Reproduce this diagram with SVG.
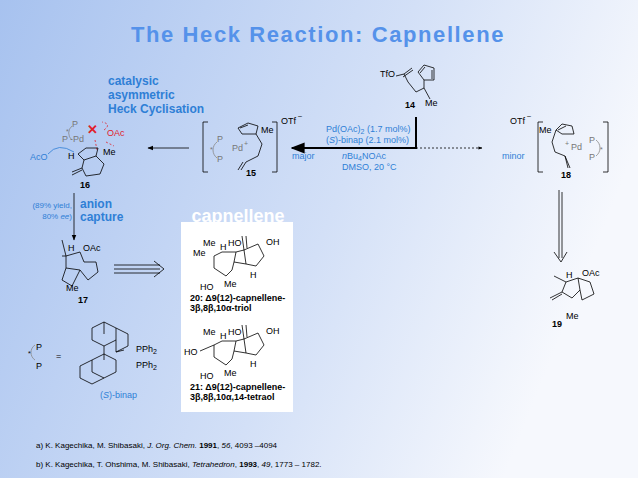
<svg xmlns="http://www.w3.org/2000/svg" width="638" height="478" viewBox="0 0 638 478">
<defs>
<linearGradient id="bg" x1="0" y1="0" x2="1" y2="0.3"><stop offset="0" stop-color="#a7c2ef"/><stop offset="0.6" stop-color="#d3e0f7"/><stop offset="1" stop-color="#f6f8fd"/></linearGradient>
<marker id="ah" viewBox="0 0 10 10" refX="9" refY="5" markerWidth="7" markerHeight="7" orient="auto"><path d="M0,1 L10,5 L0,9 z" fill="#000"/></marker>
<marker id="ahs" viewBox="0 0 10 10" refX="9" refY="5" markerWidth="5" markerHeight="5" orient="auto"><path d="M0,1 L10,5 L0,9 z" fill="#000"/></marker>
</defs>
<style>
text{font-family:"Liberation Sans",Arial,sans-serif}
.b{fill:#2f7fd6}.t{font-size:9px}.s{font-size:7px}.g{fill:#777}.bl{fill:#000}
.ln{stroke:#000;stroke-width:0.8;fill:none}.gl{stroke:#888;stroke-width:0.8;fill:none}
.lab{font-size:12px;font-weight:bold;fill:#2f7fd6}
</style>
<rect width="638" height="478" fill="url(#bg)"/>
<text x="318" y="42" text-anchor="middle" font-size="22" font-weight="bold" fill="#5592ea" letter-spacing="1.6">The Heck Reaction: Capnellene</text>

<g id="labels">
<text class="lab" x="108" y="85">catalysic</text>
<text class="lab" x="108" y="99">asymmetric</text>
<text class="lab" x="108" y="113">Heck Cyclisation</text>
<text class="lab" x="80" y="208">anion</text>
<text class="lab" x="80" y="221">capture</text>
<text class="b" font-size="8" x="72" y="208" text-anchor="end">(89% yield,</text>
<text class="b" font-size="8" x="72" y="219" text-anchor="end">80% <tspan font-style="italic">ee</tspan>)</text>
</g>

<g id="c14">
<text class="t" x="380" y="77">TfO</text>
<path class="ln" d="M396,76 L404,74 L412,68 M404,74 L408,82 M403,77 L413,70 M408,82 L416,92 L424,88 L424,80 M424,88 L430,99 M424,80 L418,72 L424,65 L434,68 L434,80 Z M420,73 L425,67 M432,70 L432,79"/>
<text class="t" x="425" y="106">Me</text>
<text class="t" x="405" y="108" font-weight="bold">14</text>
</g>

<g id="c15">
<path class="ln" d="M208,122 L203,122 L203,172 L208,172 M272,122 L277,122 L277,172 L272,172"/>
<text class="t" x="281" y="124">OTf</text><text class="s" x="298" y="118">–</text>
<path class="ln" d="M238,128 L248,123 L258,126 L256,134 L242,134 Z M240,128 L248,125"/>
<text class="t" x="261" y="133">Me</text>
<path class="ln" d="M256,134 L262,144 L258,156 L246,162 M246,162 L241,170 M243,162 L238,170"/>
<text class="t g" x="232" y="151">Pd</text><text class="s g" x="244" y="146">+</text>
<text class="t g" x="217" y="142">P</text><text class="t g" x="217" y="162">P</text>
<path class="gl" d="M217,142 A10,10 0 0 0 217,158"/>
<text class="s g" x="210" y="152">*</text>
<text class="t" x="246" y="176" font-weight="bold">15</text>
</g>

<g id="c18">
<path class="ln" d="M543,122 L538,122 L538,172 L543,172 M603,122 L608,122 L608,172 L603,172"/>
<text class="t" x="510" y="124">OTf</text><text class="s" x="527" y="118">–</text>
<text class="t" x="539" y="133">Me</text>
<path class="ln" d="M556,130 L562,124 L572,126 L574,134 L562,134 Z M558,130 L566,126 M556,130 L552,142 L555,152 L565,156 L570,168 M565,156 L568,168"/>
<text class="t g" x="571" y="150">Pd</text><text class="s g" x="565" y="146">+</text>
<text class="t g" x="589" y="143">P</text><text class="t g" x="589" y="160">P</text>
<path class="gl" d="M596,140 A10,10 0 0 1 596,156"/>
<text class="s g" x="600" y="152">*</text>
<text class="t" x="561" y="178" font-weight="bold">18</text>
</g>

<g id="c16">
<path class="gl" d="M72,126 A9,9 0 0 0 72,140"/>
<text class="s g" x="66" y="134">*</text>
<text class="t g" x="72" y="127">P</text>
<text class="t g" x="62" y="142">P</text><text class="t g" x="70" y="142">-Pd</text>
<text font-size="13" font-weight="bold" x="87" y="134" fill="#e0202a">✕</text>
<text class="t" x="107" y="136" fill="#e0202a">OAc</text>
<path d="M104,130 Q112,124 102,122 M95,140 L97,150 M106,142 L114,146" stroke="#e0202a" stroke-width="0.8" stroke-dasharray="2,2" fill="none"/>
<text class="t" x="30" y="160" fill="#2f7fd6">AcO</text>
<path d="M48,154 Q58,142 74,152" stroke="#2f7fd6" fill="none" stroke-width="0.8"/>
<text class="t" x="68" y="159">H</text>
<path class="ln" d="M78,154 L86,148 L98,148 L96,156 L84,160 Z M96,156 L104,164 L100,174 L86,176 L82,168 L84,160 M82,168 L72,172 M82,170 L72,175"/>
<text class="t" x="103" y="155">Me</text>
<text class="t" x="80" y="188" font-weight="bold">16</text>
</g>

<g id="c17">
<text class="t" x="68" y="251">H</text><text class="t" x="83" y="251">OAc</text>
<path class="ln" d="M62,240 L66,256 M80,252 L84,262 L96,262 L98,272 L88,280 L80,270 L66,268 L62,280 L72,286 L80,270 M66,256 L66,268 M62,256 L66,256 L80,252"/>
<text class="t" x="66" y="291">Me</text>
<text class="t" x="78" y="303" font-weight="bold">17</text>
</g>

<g id="c19">
<path class="ln" d="M566,282 L578,278 L580,290 L572,298 L562,292 Z M578,278 L590,282 L594,294 L582,300 L580,290 M566,282 L554,276 M562,292 L550,298 M562,294 L552,300"/>
<text class="t" x="566" y="278">H</text><text class="t" x="582" y="276">OAc</text>
<text class="t" x="566" y="319">Me</text>
<text class="t" x="552" y="327" font-weight="bold">19</text>
</g>

<g id="binap">
<path class="gl" d="M35,345 A9,9 0 0 0 35,360"/>
<text class="s" x="28" y="356">*</text>
<text class="t" x="36" y="350">P</text><text class="t" x="36" y="369">P</text>
<text class="t" x="56" y="359">=</text>
<path class="ln" d="M92,328 L104,322 L116,328 L116,340 L104,346 L92,340 Z M104,322 L104,334 M116,328 L128,334 L128,346 L116,352 L116,340 M104,346 L104,360 M92,360 L104,354 L116,360 L116,372 L104,378 L92,372 Z M80,366 L92,360 M80,366 L80,378 L92,384 L104,378 M116,352 L124,350"/>
<text class="t" x="136" y="352">PPh<tspan class="s" dy="2">2</tspan></text>
<text class="t" x="136" y="368">PPh<tspan class="s" dy="2">2</tspan></text>
<text class="t" x="100" y="398" fill="#2f7fd6">(<tspan font-style="italic">S</tspan>)-binap</text>
</g>

<g id="capnellene">
<text x="238" y="222" text-anchor="middle" font-size="18" font-weight="bold" fill="#fff">capnellene</text>
<rect x="181" y="222" width="112" height="190" fill="#fff"/>
<text class="t" x="203" y="246">Me</text><text class="t" x="193" y="256">Me</text>
<text class="t" x="220" y="250">H</text><text class="t" x="228" y="246">HO</text><text class="t" x="266" y="245">OH</text>
<path class="ln" d="M214,256 L222,252 L236,252 L244,250 L258,244 L264,256 L256,266 L246,264 L234,262 L232,270 L226,276 L214,268 Z M236,252 L234,262 M244,250 L246,264 M244,250 L242,236 M247,248 L246,236"/>
<text class="t" x="250" y="278">H</text>
<text class="t" x="200" y="290">HO</text><text class="t" x="224" y="287">Me</text>
<text class="t" x="190" y="301" font-weight="bold" font-size="8.5">20: Δ9(12)-capnellene-</text>
<text class="t" x="190" y="311" font-weight="bold" font-size="8.5">3β,8β,10α-triol</text>

<text class="t" x="203" y="335">Me</text>
<text class="t" x="220" y="339">H</text><text class="t" x="228" y="335">HO</text><text class="t" x="266" y="334">OH</text>
<text class="t" x="184" y="355">HO</text>
<path class="ln" d="M214,345 L222,341 L236,341 L244,339 L258,333 L264,345 L256,355 L246,353 L234,351 L232,359 L226,365 L214,357 Z M236,341 L234,351 M244,339 L246,353 M244,339 L242,325 M247,337 L246,325 M214,345 L200,351"/>
<text class="t" x="250" y="367">H</text>
<text class="t" x="200" y="379">HO</text><text class="t" x="224" y="376">Me</text>
<text class="t" x="190" y="390" font-weight="bold" font-size="8.5">21: Δ9(12)-capnellene-</text>
<text class="t" x="190" y="400" font-weight="bold" font-size="8.5">3β,8β,10α,14-tetraol</text>
</g>

<g id="conditions">
<text class="t b" x="326" y="132">Pd(OAc)<tspan class="s" dy="2">2</tspan><tspan dy="-2"> (1.7 mol%)</tspan></text>
<text class="t b" x="326" y="143">(<tspan font-style="italic">S</tspan>)-binap (2.1 mol%)</text>
<text class="t b" x="292" y="159">major</text>
<text class="t b" x="342" y="159"><tspan font-style="italic">n</tspan>Bu<tspan class="s" dy="2">4</tspan><tspan dy="-2">NOAc</tspan></text>
<text class="t b" x="342" y="170">DMSO, 20 °C</text>
<text class="t b" x="502" y="159">minor</text>
</g>

<g id="connectors">
<path d="M416,117 L416,148 L292,148" stroke="#000" stroke-width="2" fill="none" marker-end="url(#ah)"/>
<path d="M416,148 L482,148" stroke="#000" stroke-width="0.8" stroke-dasharray="2,2" fill="none" marker-end="url(#ahs)"/>
<path d="M189,148 L148,148" stroke="#000" stroke-width="0.8" fill="none" marker-end="url(#ah)"/>
<path d="M74,193 L74,240" stroke="#000" stroke-width="0.8" fill="none" marker-end="url(#ah)"/>
<path d="M559,190 L559,258 M562,192 L562,258" stroke="#000" stroke-width="0.8" fill="none"/>
<path d="M554,252 L561,262 L567,252" stroke="#000" stroke-width="0.8" fill="none"/>
<path d="M114,265 L160,265 M114,269 L160,269 M114,273 L160,273" stroke="#000" stroke-width="0.8" fill="none"/>
<path d="M154,261 L164,269 L154,277" stroke="#000" stroke-width="0.8" fill="none"/>
</g>

<g id="refs">
<text x="36" y="448" font-size="8">a) K. Kagechika, M. Shibasaki, <tspan font-style="italic">J. Org. Chem.</tspan> <tspan font-weight="bold">1991</tspan>, <tspan font-style="italic">56</tspan>, 4093 –4094</text>
<text x="36" y="467" font-size="8">b) K. Kagechika, T. Ohshima, M. Shibasaki, <tspan font-style="italic">Tetrahedron</tspan>, <tspan font-weight="bold">1993</tspan>, <tspan font-style="italic">49</tspan>, 1773 – 1782.</text>
</g>
</svg>
